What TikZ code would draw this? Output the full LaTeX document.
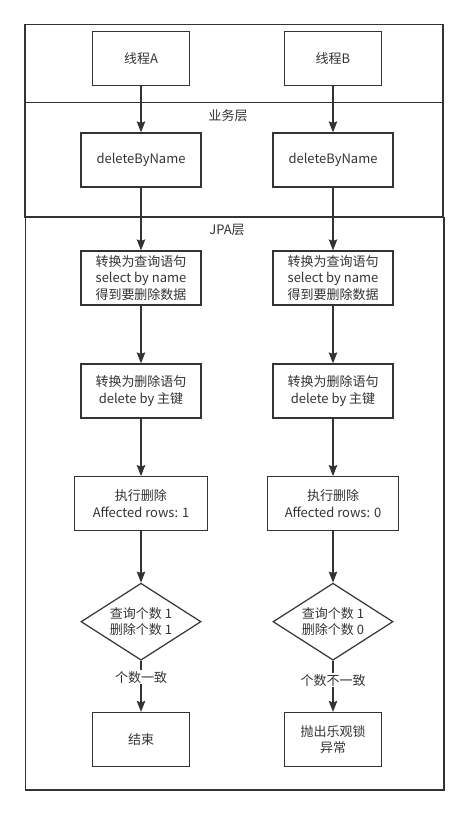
\documentclass[tikz,border=0pt]{standalone}
\usepackage{fontspec}
\setmainfont{Noto Sans CJK SC}
\usetikzlibrary{arrows.meta,shapes.geometric}
\definecolor{ink}{HTML}{333333}
\tikzset{
  box/.style={draw=ink,line width=1.2pt,text=ink,align=center,inner sep=0pt,
    minimum width=#1,minimum height=54pt,font=\fontsize{13}{16.5}\selectfont},
  box/.default=120pt,
  layer/.style={draw=ink,line width=1.4pt},
  dec/.style={draw=ink,line width=1.2pt,text=ink,align=center,diamond,aspect=1.56,inner sep=0pt,
    minimum width=120pt,minimum height=77pt,font=\fontsize{13}{16.5}\selectfont},
  lbl/.style={text=ink,font=\fontsize{13}{16.5}\selectfont,inner sep=1pt},
  arr/.style={draw=ink,line width=1.2pt,-{Stealth[length=11pt,width=8.5pt,inset=1.5pt]}},
}
\begin{document}
\begin{tikzpicture}[x=1pt,y=-1pt]
\useasboundingbox (0,0) rectangle (469,815);
% layers
\draw[layer] (25,24.5) rectangle (443,102.5);
\draw[layer] (25,102.5) rectangle (443,216.8);
\draw[layer] (25.5,217.5) rectangle (444,790);
\node[lbl] (L1) at (228,116) {业务层};
\node[lbl] (L2) at (227,230) {JPA层};
% column A
\node[box=97pt] (tA) at (141,58.8) {线程A};
\node[box] (dA) at (141,160) {deleteByName};
\node[box] (qA) at (141,278) {转换为查询语句\\select by name\\得到要删除数据};
\node[box] (rA) at (141,391) {转换为删除语句\\delete by 主键};
\node[box=133pt] (eA) at (141,503.7) {执行删除\\Affected rows: 1};
\node[dec] (cA) at (141,621.7) {查询个数 1\\删除个数 1};
\node[box=97pt] (zA) at (141,739.5) {结束};
% column B
\node[box=97pt] (tB) at (333,58.8) {线程B};
\node[box] (dB) at (333,160) {deleteByName};
\node[box] (qB) at (333,278) {转换为查询语句\\select by name\\得到要删除数据};
\node[box] (rB) at (333,391) {转换为删除语句\\delete by 主键};
\node[box=131pt] (eB) at (333,503.7) {执行删除\\Affected rows: 0};
\node[dec] (cB) at (333,621.7) {查询个数 1\\删除个数 0};
\node[box=97pt] (zB) at (333,739.5) {抛出乐观锁\\异常};
% arrows
\foreach \c in {A,B}{
  \draw[arr] (t\c) -- (d\c);
  \draw[arr] (d\c) -- (q\c);
  \draw[arr] (q\c) -- (r\c);
  \draw[arr] (r\c) -- (e\c);
  \draw[arr] (e\c) -- (c\c);
}
\draw[arr] (cA) -- node[lbl,fill=white,pos=0.32] (mA) {个数一致} (zA);
\draw[arr] (cB) -- node[lbl,fill=white,pos=0.38] (mB) {个数不一致} (zB);
\end{tikzpicture}
\end{document}
